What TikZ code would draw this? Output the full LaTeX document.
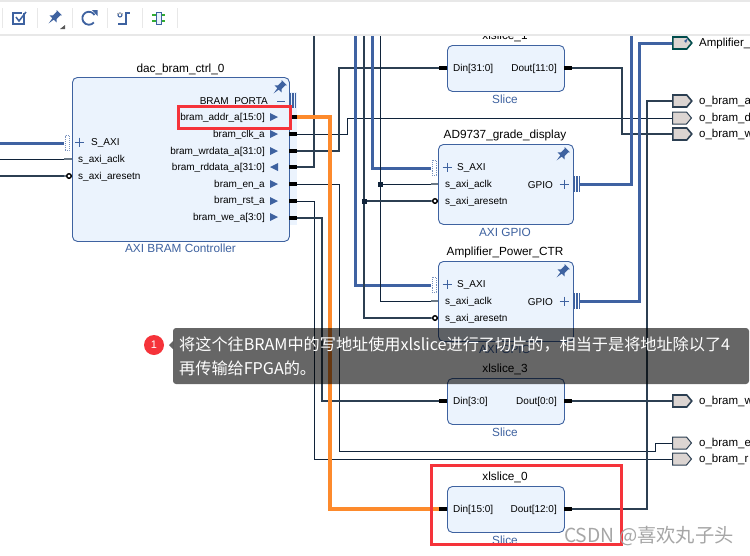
\documentclass[tikz,border=0pt]{standalone}
\usepackage{fontspec}
\setmainfont{Liberation Sans}
\newfontfamily\cjk{Noto Sans CJK SC}
\usetikzlibrary{shapes.symbols}
\definecolor{blockfill}{HTML}{EBF3FD}
\definecolor{blockline}{HTML}{3E62A0}
\definecolor{busblue}{HTML}{3F62A2}
\definecolor{wirecol}{HTML}{10233A}
\definecolor{netcol}{HTML}{2C3F52}
\definecolor{portfill}{HTML}{DCD5D2}
\definecolor{orangewire}{HTML}{FD8A2C}
\definecolor{redbox}{HTML}{F5333A}
\definecolor{barcol}{HTML}{E8E8E8}
\tikzset{
  block/.style={draw=blockline,fill=blockfill,rounded corners=5,line width=.9,anchor=north west,inner sep=0},
  title/.style={font=\fontsize{11.8}{13}\selectfont,text=black,inner sep=0,yshift=-.5pt},
  kind/.style={font=\fontsize{11.8}{13}\selectfont,text=blockline,inner sep=0},
  portl/.style={font=\fontsize{10}{12}\selectfont,anchor=west,inner sep=0,yshift=-.8pt},
  portr/.style={font=\fontsize{10}{12}\selectfont,anchor=east,inner sep=0,yshift=-.8pt},
  thinw/.style={draw=wirecol,line width=1},
  net/.style={draw=netcol,line width=1.7},
  bus/.style={draw=busblue,line width=3},
  stub/.style={draw=black,line width=3.4},
  ostub/.style={draw=netcol!70,line width=2},
  ifbar/.style={draw=blockline,line width=1.3},
  ifdot/.style={draw=blockline!70,densely dotted,line width=.9},
  outp/.style={draw=#1,fill=portfill,line width=1.6,shape=signal,signal to=east,signal from=nowhere,signal pointer angle=100,minimum width=19,minimum height=12,inner sep=0,anchor=west},
  outp/.default=netcol,
  olabel/.style={font=\fontsize{11.5}{13}\selectfont,anchor=west,inner sep=0,yshift=-.8pt},
  pin/.pic={\fill[blockline,rotate=-45,scale=1.25] (-3,-6)--(3,-6)--(2,-5)--(2,-1)--(4,1)--(-4,1)--(-2,-1)--(-2,-5)--cycle (-.8,1)--(0,6)--(.8,1)--cycle;},
  plus/.pic={\draw[blockline,line width=.9] (-4.5,0)--(4.5,0) (0,-4.5)--(0,4.5);},
  tri/.pic={\fill[blockline] (-4,-4)--(4,0)--(-4,4)--cycle;},
  tril/.pic={\fill[blockline] (4,-4)--(-4,0)--(4,4)--cycle;},
}
\begin{document}
\begin{tikzpicture}[x=1pt,y=-1pt]
\useasboundingbox (0,0) rectangle (750,555);
\clip (0,0) rectangle (750,555);
\fill[white] (0,0) rectangle (750,555);

% port ends
\coordinate (dac_saxi) at (64,143);
\coordinate (dac_aclk) at (72,159);
\coordinate (dac_arst) at (72,176);
\coordinate (dac_addr2) at (297,117);
\coordinate (dac_clk) at (289,134);
\coordinate (dac_wr) at (289,151);
\coordinate (dac_rd) at (289,167);
\coordinate (dac_en) at (289,184);
\coordinate (dac_rst) at (289,201);
\coordinate (dac_we) at (289,218);
\coordinate (x1_din) at (447,68);
\coordinate (x1_dout) at (564,68);
\coordinate (ad_saxi) at (431,168);
\coordinate (ad_aclk) at (438,184);
\coordinate (ad_arst) at (438,201);
\coordinate (ad_gpio) at (580,184);
\coordinate (amp_saxi) at (431,285);
\coordinate (amp_aclk) at (438,301);
\coordinate (amp_arst) at (438,318);
\coordinate (amp_gpio) at (580,301);
\coordinate (x3_din) at (447,401);
\coordinate (x3_dout) at (564,401);
\coordinate (x0_din) at (447,509);
\coordinate (x0_dout) at (564,509);
\coordinate (in_saxi) at (0,143);
\coordinate (in_aclk) at (0,159);
\coordinate (in_arst) at (0,176);
\coordinate (jn_arst) at (364,201);
\coordinate (jn_aclk) at (380.5,184);

% output ports
\node[outp=teal!60!black] (p_amp) at (672,43) {};
\node[outp] (p_a) at (672,101) {};
\node[outp,line width=1] (p_d) at (672,118) {};
\node[outp] (p_w) at (672,134) {};
\node[outp] (p_w2) at (672,401) {};
\node[outp,line width=1] (p_e) at (672,443) {};
\node[outp,line width=1] (p_r) at (672,459) {};
\fill[blockline] (684,41)--(688,38)--(686,43)--cycle;
\node[olabel] (l_amp) at (699,43) {Amplifier\_};
\node[olabel] (l_a) at (699,101) {o\_bram\_a};
\node[olabel] (l_d) at (699,118) {o\_bram\_d};
\node[olabel] (l_w) at (699,134) {o\_bram\_w};
\node[olabel] (l_w2) at (699,401) {o\_bram\_w};
\node[olabel] (l_e) at (699,443) {o\_bram\_e};
\node[olabel] (l_r) at (699,459) {o\_bram\_r};

% wires
\draw[bus] (in_saxi) -- (dac_saxi);
\draw[thinw] (in_aclk) -- (dac_aclk);
\draw[net] (in_arst) -- (dac_arst);
\draw[thinw] (dac_clk) -| (347,118) -- (p_d.west);
\draw[net] (dac_wr) -| (339,68) -- (x1_din);
\draw[net] (dac_rd) -| (314,36);
\draw[thinw] (dac_en) -| (339,451) -| (655,443) -- (p_e.west);
\draw[thinw] (dac_rst) -| (314,459) -- (p_r.west);
\draw[net] (dac_we) -| (322,401) -- (x3_din);
\draw[bus] (355,36) |- (amp_saxi);
\draw[bus] (372,36) |- (ad_saxi);
\draw[net] (364,36) |- (amp_arst);
\draw[thinw] (380.5,36) |- (amp_aclk);
\draw[net] (jn_arst) -- (ad_arst);
\draw[thinw] (jn_aclk) -- (ad_aclk);
\fill[wirecol] (jn_arst) ++(-2.5,-2.5) rectangle ++(5,5);
\fill[wirecol] (jn_aclk) ++(-2.5,-2.5) rectangle ++(5,5);
\draw[net] (x1_dout) -| (622,134) -- (p_w.west);
\draw[net] (x3_dout) -- (p_w2.west);
\draw[net] (x0_dout) -| (647,101) -- (p_a.west);
\draw[bus] (ad_gpio) -| (631,36);
\draw[bus] (amp_gpio) -| (639,43) -- (p_amp.west);
\draw[orangewire,line width=3.2] (dac_addr2) -| (330,509) -- (x0_din);

% dac_bram_ctrl_0
\fill[blockfill] (289,92) rectangle (297,225);
\node[block,minimum width=217,minimum height=164] (dac) at (72,77) {};
\node[title] (dac_t) at (180.5,69) {dac\_bram\_ctrl\_0};
\node[kind] (dac_k) at (180.5,248) {AXI BRAM Controller};
\pic at (279,88) {pin};
\foreach \n/\y/\t in {addr/117/bram\_addr\_a[15:0],clk/134/bram\_clk\_a,wr/151/bram\_wrdata\_a[31:0],rd/167/bram\_rddata\_a[31:0],en/184/bram\_en\_a,rst/200.5/bram\_rst\_a,we/217/bram\_we\_a[3:0]}
  \node[portr] (dac_l\n) at (265,\y) {\t};
\foreach \y in {117,134,151,184,201,217} \pic at (274,\y) {tri};
\pic at (274,167) {tril};
\node[portr] (dac_lb) at (268,101) {BRAM\_PORTA};
\draw[blockline,line width=.9] (277,101) -- (285,101);
\foreach \x in {290.5,293,295.5} \draw[ifbar] (\x,93) -- (\x,108);
\foreach \y in {117,134,151,167,184,201,218} \draw[stub] (289,\y) -- ++(8,0);
\draw[ifdot] (65,135.5) rectangle (69,150.5);
\pic at (79.5,142) {plus};
\node[portl] (dac_ls) at (91,142) {S\_AXI};
\node[portl] (dac_la) at (78,159) {s\_axi\_aclk};
\node[portl] (dac_lr) at (78,176) {s\_axi\_aresetn};
\draw[ostub] (64,159) -- (72,159);
\draw[ostub] (64,176) -- (68,176);
\draw[black,fill=white,line width=1.4] (69,176) circle (2.3);

% xlslice_1
\node[block,minimum width=117,minimum height=46] (x1) at (447,45) {};
\node[title] (x1_t) at (505,36) {xlslice\_1};
\node[kind] (x1_k) at (505,99) {Slice};
\node[portl] (x1_a) at (453,68) {Din[31:0]};
\node[portr] (x1_b) at (557,68) {Dout[11:0]};
\draw[stub] (439,68) -- (447,68) (564,68) -- (572,68);

% AD9737_grade_display
\node[block,minimum width=135,minimum height=80] (ad) at (438,144) {};
\node[title] (ad_t) at (505,135) {AD9737\_grade\_display};
\node[kind] (ad_k) at (505,232) {AXI GPIO};
\pic at (562,155) {pin};
\pic at (447,167) {plus};
\node[portl] (ad_s) at (457,167) {S\_AXI};
\node[portl] (ad_a) at (445,184) {s\_axi\_aclk};
\node[portl] (ad_r) at (445,201) {s\_axi\_aresetn};
\node[portr] (ad_g) at (553,184) {GPIO};
\pic at (564,184) {plus};
\foreach \x in {574.5,577,579.5} \draw[ifbar] (\x,176) -- (\x,192);
\draw[ifdot] (432,160) rectangle (436,175);
\draw[ostub] (431,184) -- (438,184);
\draw[ostub] (431,201) -- (434,201);
\draw[black,fill=white,line width=1.4] (435,201) circle (2.3);

% Amplifier_Power_CTR
\node[block,minimum width=135,minimum height=80] (amp) at (438,261) {};
\node[title] (amp_t) at (505,252) {Amplifier\_Power\_CTR};
\node[kind] (amp_k) at (505,349) {AXI GPIO};
\pic at (562,272) {pin};
\pic at (447,284) {plus};
\node[portl] (amp_s) at (457,284) {S\_AXI};
\node[portl] (amp_a) at (445,301) {s\_axi\_aclk};
\node[portl] (amp_r) at (445,318) {s\_axi\_aresetn};
\node[portr] (amp_g) at (553,301) {GPIO};
\pic at (564,301) {plus};
\foreach \x in {574.5,577,579.5} \draw[ifbar] (\x,293) -- (\x,309);
\draw[ifdot] (432,277) rectangle (436,292);
\draw[ostub] (431,301) -- (438,301);
\draw[ostub] (431,318) -- (434,318);
\draw[black,fill=white,line width=1.4] (435,318) circle (2.3);

% xlslice_3
\node[block,minimum width=117,minimum height=46] (x3) at (447,378) {};
\node[title] (x3_t) at (505,369) {xlslice\_3};
\node[kind] (x3_k) at (505,432) {Slice};
\node[portl] (x3_a) at (453,401) {Din[3:0]};
\node[portr] (x3_b) at (557,401) {Dout[0:0]};
\draw[stub] (439,401) -- (447,401) (564,401) -- (572,401);

% xlslice_0
\node[block,minimum width=117,minimum height=46] (x0) at (447,486) {};
\node[title] (x0_t) at (505,477) {xlslice\_0};
\node[kind] (x0_k) at (505,540) {Slice};
\node[portl] (x0_a) at (453,509) {Din[15:0]};
\node[portr] (x0_b) at (557,509) {Dout[12:0]};
\draw[stub] (439,509) -- (447,509) (564,509) -- (572,509);

% red boxes
\draw[redbox,line width=3] (178,106) rectangle (290,128);
\draw[redbox,line width=3] (431,465) rectangle (621,544);

% toolbar
\fill[white] (0,0) rectangle (750,35);
\fill[barcol] (0,0) rectangle (750,2);
\fill[barcol] (0,34) rectangle (750,36);
\foreach \x in {2,37,72,107,142,177} \draw[barcol,line width=1] (\x,8) -- (\x,28);
\draw[blockline,line width=1.4] (24,13) -- (24,24) -- (13,24) -- (13,13) -- (22,13);
\draw[blockline,line width=1.5] (16,17) -- (19,21) -- (26,12);
\pic at (54,18) {pin};
\fill[black!65] (65,25) -- (65,29) -- (60,29) -- cycle;
\draw[blockline,line width=1.8] (94.5,15) arc[start angle=-30,end angle=-320,radius=6.5];
\fill[blockline] (92,10) -- (97.5,10) -- (97.5,16) -- cycle;
\draw[blockline,line width=1.1] (120,15) circle (2);
\draw[blockline,line width=1.3] (118,24) -- (126,24) -- (126,13) -- (130,13);
\draw[black!30,line width=.8] (117,13.5) -- (123,13.5);
\draw[green!60!black!80,line width=1.6] (152,15) -- (165,15) (152,21) -- (165,21);
\draw[blockline,fill=blockfill,line width=1] (156,12) rectangle (161.5,24);

% annotation
\fill[black,opacity=.6,rounded corners=3] (173,328) rectangle (749,384);
\fill[black,opacity=.6] (173,341) -- (169,345) -- (173,349) -- cycle;
\node[circle,fill=redbox,minimum size=20,inner sep=0,text=white,font=\fontsize{11}{13}\selectfont] (badge) at (154,345) {1};
\node[anchor=west,inner sep=0,text=white,font=\cjk\fontsize{16.15}{18}\selectfont] (note1) at (179,345) {将这个往BRAM中的写地址使用xlslice进行了切片的，相当于是将地址除以了4};
\node[anchor=west,inner sep=0,text=white,font=\cjk\fontsize{16.15}{18}\selectfont] (note2) at (179,368) {再传输给FPGA的。};
\node[anchor=west,inner sep=0,text=black!35,font=\cjk\fontsize{19.3}{21}\selectfont] (mark) at (564,536) {CSDN @喜欢丸子头};
\end{tikzpicture}
\end{document}
